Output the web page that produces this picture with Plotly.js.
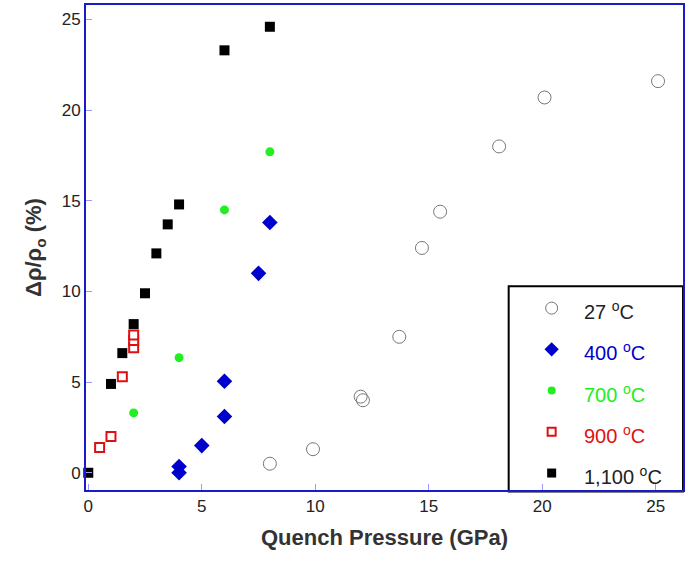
<!DOCTYPE html><html><head><script src="https://cdn.plot.ly/plotly-3.0.1.min.js"></script></head><body style="margin:0"><div id="c" style="width:685px;height:579px"></div><script>
const x27=[8,9.9,12,12.1,13.7,14.7,15.5,18.1,20.1,25.1], y27=[0.5,1.3,4.2,4.0,7.5,12.4,14.4,18.0,20.7,21.6];
const x400=[4,4,5,6,6,7.5,8], y400=[0.0,0.35,1.5,3.1,5.05,11.0,13.8];
const x700=[2,4,6,8], y700=[3.3,6.35,14.5,17.7];
const x900=[0.5,1,1.5,2,2,2], y900=[1.4,2.0,5.3,6.9,7.3,7.6];
const x1100=[0,1,1.5,2,2.5,3,3.5,4,6,8], y1100=[0,4.9,6.6,8.2,9.9,12.1,13.7,14.8,23.3,24.6];
const names=['27 °C','400 °C','700 °C','900 °C','1,100 °C'];
const F='Arial, Liberation Sans, sans-serif';
const traces=[
 {x:x27,y:y27,name:names[0],marker:{symbol:'circle-open',size:13,color:'#777',line:{width:1}}},
 {x:x400,y:y400,name:names[1],marker:{symbol:'diamond',size:12,color:'#0000cc'}},
 {x:x700,y:y700,name:names[2],marker:{symbol:'circle',size:9,color:'#22ee22'}},
 {x:x900,y:y900,name:names[3],marker:{symbol:'square',size:9,color:'white',line:{width:2,color:'#dd1111'}}},
 {x:x1100,y:y1100,name:names[4],marker:{symbol:'square',size:10,color:'black'}}
].map(t=>Object.assign(t,{type:'scatter',mode:'markers',showlegend:false,cliponaxis:false}));
const cols=['#222','#0000cc','#22ee22','#dd1111','#222'];
const ann=[], shp=[{type:'rect',xref:'paper',yref:'paper',x0:0.708,x1:1,y0:-0.003,y1:0.42,line:{color:'black',width:2},fillcolor:'white',layer:'below'}];
names.forEach((n,i)=>{
 const yy=0.37-i*0.085;
 ann.push({xref:'paper',yref:'paper',x:0.83,y:yy,yanchor:'middle',text:n.replace('°','<sup>o</sup>'),showarrow:false,xanchor:'left',font:{size:20,color:cols[i],family:F}});
});
const lt=traces.map((t,i)=>({type:'scatter',mode:'markers',x:[0.78],y:[0.375-i*0.085],xaxis:'x2',yaxis:'y2',marker:Object.assign({},t.marker,{size:t.marker.size-1}),showlegend:false}));
const ax={tickvals:[0,5,10,15,20,25],ticks:'inside',ticklen:6,tickcolor:'#99f',showgrid:false,zeroline:false,showline:true,mirror:true,linecolor:'#1a1acc',linewidth:2,tickfont:{size:17,family:F,color:'#222'}};
Plotly.newPlot('c',traces.concat(lt),{
 width:685,height:579,margin:{l:86,r:2,t:5,b:89},plot_bgcolor:'white',
 xaxis:Object.assign({range:[-0.1,26.2],title:{text:'<b>Quench Pressure (GPa)</b>',font:{size:22,family:F,color:'#333'},standoff:14}},ax),
 yaxis:Object.assign({range:[-0.95,25.8],title:{text:'<b>Δρ/ρ<sub>o</sub> (%)</b>',font:{size:22,family:F,color:'#333'},standoff:14}},ax),
 xaxis2:{overlaying:'x',range:[0,1],visible:false,anchor:'y2'},
 yaxis2:{overlaying:'y',range:[0,1],visible:false,anchor:'x2'},
 shapes:shp,annotations:ann
},{staticPlot:true});
</script></body></html>
